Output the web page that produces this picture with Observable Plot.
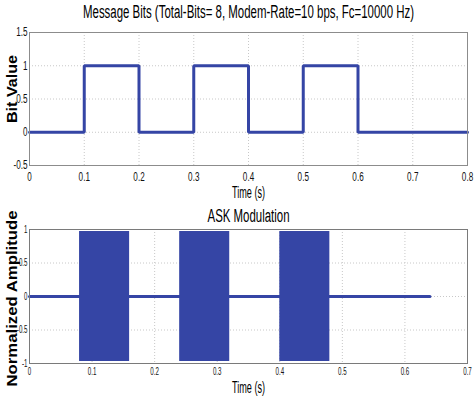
<!DOCTYPE html>
<html><head><meta charset="utf-8">
<script src="https://cdn.jsdelivr.net/npm/d3@7"></script>
<script src="https://cdn.jsdelivr.net/npm/@observablehq/plot@0.6"></script>
<style>
body{margin:0;background:#fff}
#wrap{position:relative;width:474px;height:397px;overflow:hidden;background:#fff}
</style>
</head><body><div id="wrap"></div>
<script>
// ---- data ----
const messageTimes = [0, 0.1, 0.2, 0.3, 0.4, 0.5, 0.6, 0.7, 0.8];
const messageBits  = [0, 1, 0, 1, 0, 1, 0, 0, 0];
const topXTicks = [0, 0.1, 0.2, 0.3, 0.4, 0.5, 0.6, 0.7, 0.8];
const topYTicks = [-0.5, 0, 0.5, 1, 1.5];

const askLineTimes = [0, 0.64];
const askLineValues = [0, 0];
const askBurstStart = [0.08, 0.24, 0.40];
const askBurstEnd   = [0.16, 0.32, 0.48];
const askBurstAmp   = [0.97, 0.97, 0.97];
const botXTicks = [0, 0.1, 0.2, 0.3, 0.4, 0.5, 0.6, 0.7];
const botYTicks = [-1, -0.5, 0, 0.5, 1];

const title1 = "Message Bits (Total-Bits= 8, Modem-Rate=10 bps, Fc=10000 Hz)";
const title2 = "ASK Modulation";
const xLabel = "Time (s)";
const yLabel1 = "Bit Value";
const yLabel2 = "Normalized Amplitude";

const blue = "#3545a5";
const fmt = d => String(d);
const font = "'Liberation Sans', Arial, sans-serif";
const wrap = document.getElementById("wrap");

const messageData = messageTimes.map((t, i) => ({t, v: messageBits[i]}));
const lineData = askLineTimes.map((t, i) => ({t, v: askLineValues[i]}));
const bursts = askBurstStart.map((s, i) => ({s, e: askBurstEnd[i], a: askBurstAmp[i]}));

function grid(xt, yt) {
  return [
    Plot.gridX(xt, {stroke: "#c8c8c8", strokeOpacity: 1, strokeDasharray: "1,2"}),
    Plot.gridY(yt, {stroke: "#c8c8c8", strokeOpacity: 1, strokeDasharray: "1,2"})
  ];
}
const lbl = {textAnchor: "middle", lineAnchor: "middle", fill: "#000"};

const p1 = Plot.plot({
  width: 474, height: 200,
  marginLeft: 29, marginRight: 7, marginTop: 32, marginBottom: 35,
  style: {position: "absolute", left: "0px", top: "0px", fontFamily: font, background: "transparent", overflow: "visible"},
  x: {domain: [0, 0.8]},
  y: {domain: [-0.5, 1.5]},
  marks: [
    ...grid(topXTicks, topYTicks),
    Plot.axisX({ticks: topXTicks, tickFormat: fmt, tickSize: 0, tickPadding: 7, fontSize: 12, label: null, fill: "#111"}),
    Plot.axisY({ticks: topYTicks, tickFormat: fmt, tickSize: 0, tickPadding: 2, fontSize: 12, label: null, fill: "#111"}),
    Plot.line(messageData, {x: "t", y: "v", curve: "step-after", stroke: blue, strokeWidth: 3, strokeLinejoin: "miter"}),
    Plot.frame({stroke: "#8c8c8c"}),
    Plot.text([title1], {...lbl, text: d => d, frameAnchor: "top", dy: -20, fontSize: 18}),
    Plot.text([xLabel], {...lbl, text: d => d, frameAnchor: "bottom", dy: 27, fontSize: 16}),
    Plot.text([yLabel1], {...lbl, text: d => d, frameAnchor: "left", dx: -17, dy: -10, rotate: -90, fontSize: 14, fontWeight: "bold"})
  ]
});

const p2 = Plot.plot({
  width: 474, height: 197,
  marginLeft: 29, marginRight: 7, marginTop: 29, marginBottom: 34,
  style: {position: "absolute", left: "0px", top: "200px", fontFamily: font, background: "transparent", overflow: "visible"},
  x: {domain: [0, 0.7]},
  y: {domain: [-1, 1]},
  marks: [
    ...grid(botXTicks, botYTicks),
    Plot.axisX({ticks: botXTicks, tickFormat: fmt, tickSize: 0, tickPadding: 4, fontSize: 10, label: null, fill: "#111"}),
    Plot.axisY({ticks: botYTicks, tickFormat: fmt, tickSize: 0, tickPadding: 2, fontSize: 10, label: null, fill: "#111"}),
    Plot.line(lineData, {x: "t", y: "v", stroke: blue, strokeWidth: 3}),
    Plot.rect(bursts, {x1: "s", x2: "e", y1: d => -d.a, y2: "a", fill: blue}),
    Plot.frame({stroke: "#7a7a7a"}),
    Plot.text([title2], {...lbl, text: d => d, frameAnchor: "top", dy: -13, fontSize: 18}),
    Plot.text([xLabel], {...lbl, text: d => d, frameAnchor: "bottom", dy: 24, fontSize: 16}),
    Plot.text([yLabel2], {...lbl, text: d => d, frameAnchor: "left", dx: -17, dy: 2, rotate: -90, fontSize: 15, fontWeight: "bold"})
  ]
});

wrap.appendChild(p1);
wrap.appendChild(p2);

function setLen(el, len) {
  const t = el.querySelector("tspan") || el;
  t.setAttribute("textLength", len);
  t.setAttribute("lengthAdjust", "spacingAndGlyphs");
}
function fixTexts(svg, explicit, factor) {
  svg.querySelectorAll("text").forEach(el => {
    const s = el.textContent;
    if (explicit[s] != null) setLen(el, explicit[s]);
    else {
      const w = el.getComputedTextLength();
      if (w > 0) setLen(el, (w * factor).toFixed(1));
    }
  });
}
fixTexts(p1, {[title1]: 331, [xLabel]: 33, [yLabel1]: 68}, 0.68);
fixTexts(p2, {[title2]: 82, [xLabel]: 33, [yLabel2]: 176}, 0.62);
</script>
</body></html>
